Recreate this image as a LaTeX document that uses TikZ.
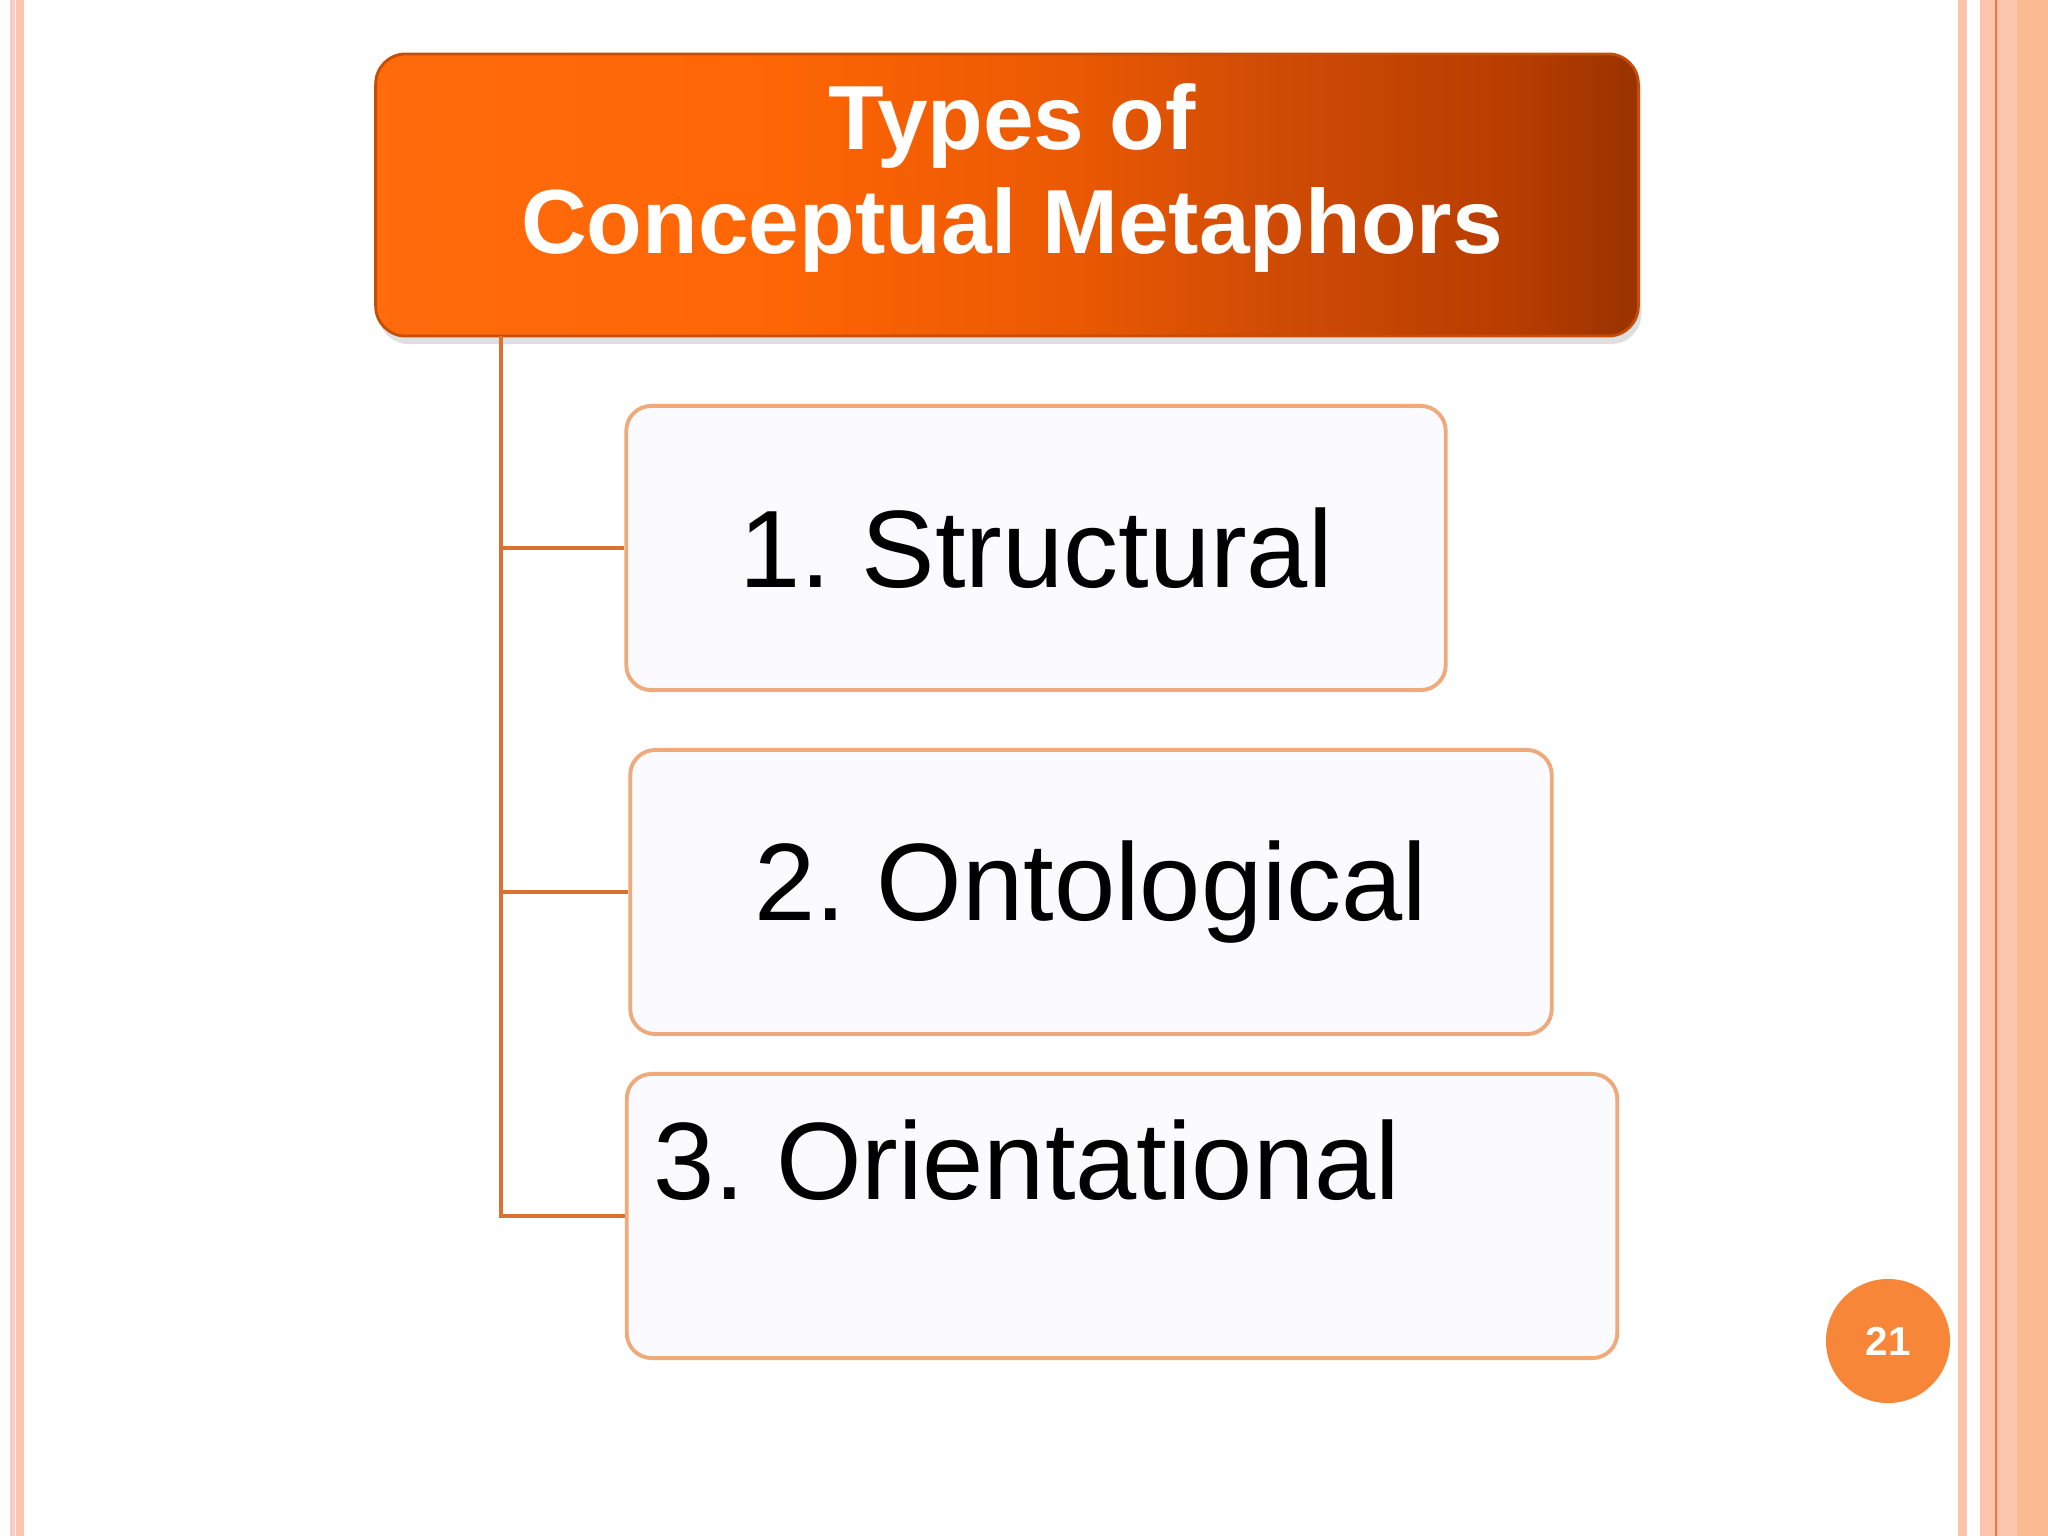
\documentclass[tikz,border=0pt]{standalone}
\usepackage{fontspec}
\setmainfont{Liberation Sans}
\usetikzlibrary{shadows}
\definecolor{stripe}{RGB}{251,196,172}
\definecolor{stripelight}{RGB}{246,206,196}
\definecolor{stripeline}{RGB}{240,120,60}
\definecolor{branch}{RGB}{217,114,48}
\definecolor{boxline}{RGB}{238,170,122}
\definecolor{boxfill}{RGB}{251,250,254}
\definecolor{headedge}{RGB}{196,78,8}
\definecolor{pagenum}{RGB}{248,134,56}
\pgfdeclarehorizontalshading{headshade}{100bp}{
  rgb(0bp)=(1,0.42,0.05);
  rgb(25bp)=(1,0.42,0.05);
  rgb(40bp)=(1,0.40,0.02);
  rgb(52.5bp)=(0.92,0.35,0.01);
  rgb(60bp)=(0.82,0.30,0.02);
  rgb(70bp)=(0.72,0.24,0);
  rgb(75bp)=(0.60,0.20,0);
  rgb(100bp)=(0.60,0.20,0)}

\begin{document}
\frenchspacing
\begin{tikzpicture}[x=0.01cm,y=-0.01cm,
  item/.style={draw=boxline,line width=1.1pt,fill=boxfill,rounded corners=0.25cm,inner sep=0pt,minimum height=2.84cm},
  itemtext/.style={font=\fontsize{31.3}{36}\selectfont},
  link/.style={draw=branch,line width=1.4pt}]
\useasboundingbox (0,0) rectangle (2048,1536);
\fill[white] (0,0) rectangle (2048,1536);

\fill[stripelight] (10,0) rectangle (15,1536);
\fill[stripe] (16,0) rectangle (24,1536);
\fill[stripe] (1958,0) rectangle (1967,1536);
\fill[stripe] (1980,0) rectangle (2048,1536);
\fill[stripe!85!orange] (2017,0) rectangle (2048,1536);
\draw[stripeline,line width=0.6pt] (1996,0) -- (1996,1536);

\node[draw=headedge,line width=0.8pt,rounded corners=0.3cm,shading=headshade,
  minimum width=12.62cm,minimum height=2.82cm,inner sep=0pt,
  drop shadow={opacity=0.25,shadow xshift=0.03cm,shadow yshift=-0.08cm}] (head) at (1007,195) {};
\node[text=white,font=\bfseries\fontsize{25.9}{29.6}\selectfont,align=center] (headlabel) at (1012,178) {Types of\\Conceptual Metaphors};

\node[item,minimum width=8.19cm,itemtext] (b1) at (1036,548) {1. Structural};
\node[item,minimum width=9.21cm,itemtext] (b2) at (1091,892) {2. Ontological};
\node[item,minimum width=9.90cm] (b3) at (1122,1216) {};
\node[itemtext,anchor=base west,inner sep=0pt] (b3label) at (653,1199) {3. Orientational};

\coordinate (trunk) at (501,336);
\path[link] (trunk) |- (b3.west);
\path[link] (trunk |- b1.west) -- (b1.west);
\path[link] (trunk |- b2.west) -- (b2.west);

\node[circle,fill=pagenum,minimum size=1.24cm,inner sep=0pt,text=white,font=\bfseries\fontsize{11.5}{13}\selectfont] (page) at (1888,1341) {21};
\end{tikzpicture}
\end{document}
